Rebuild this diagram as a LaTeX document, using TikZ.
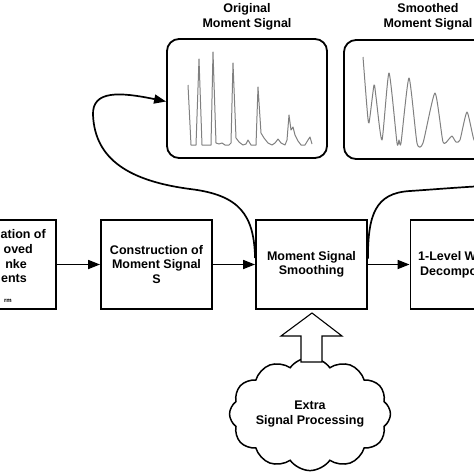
\documentclass[tikz,border=0pt]{standalone}
\usepackage{fontspec}
\setmainfont{Liberation Sans}
\usetikzlibrary{arrows.meta,shapes.symbols}
\begin{document}
\begin{tikzpicture}[x=1pt,y=-1pt,
  box/.style={draw, line width=1.8pt, minimum width=111pt, minimum height=89pt, inner sep=0pt, align=center, font=\fontsize{12.5}{14.5}\selectfont\bfseries},
  sigbox/.style={draw, line width=1.8pt, rounded corners=12pt, minimum width=160pt, minimum height=119pt, inner sep=0pt},
  lbl/.style={font=\fontsize{12.5}{15}\selectfont\bfseries, align=center, inner sep=0pt},
  conn/.style={line width=1.7pt, -{Triangle[length=12pt,width=9pt]}},
  curve/.style={line width=1.7pt},
  sig/.style={draw=black!50, line width=1pt, line join=round}
]
\useasboundingbox (0,0) rectangle (474,474);
\clip (0,0) rectangle (474,474);

% titles
\node[lbl] (t1) at (247,16.5) {Original\\Moment Signal};
\node[lbl] (t2) at (428,16.5) {Smoothed\\Moment Signal};

% signal boxes
\node[sigbox] (sig1) at (247,98.5) {};
\node[sigbox] (sig2) at (424,99.5) {};

% original signal
\draw[sig] plot coordinates {(188,85) (191,145) (196,145) (199,59) (202,145) (211,145) (213,52) (216,143) (219,144) (222,143) (225,145) (229,145) (231,143) (233,63) (236,138) (239,142) (243,145) (246,144) (248,140) (251,145) (256,145) (258,87) (261,133) (264,138) (268,143) (272,145) (275,143) (278,139) (281,143) (285,145) (287,140) (289,115) (291,130) (293,127) (295,135) (298,141) (301,145) (305,145) (308,140) (310,137) (312,144)};

% smoothed signal
\draw[sig] plot[smooth, tension=0.35] coordinates {(363,57) (367,108) (369,123) (374,85) (376,97) (382,140) (389,73) (397,143) (399,140) (401,143) (409,78) (417,143) (423,143) (435,93) (443,142) (449,139) (452,136) (456,142) (460,140) (467,112) (474,140) (480,140)};

% boxes
\node[box] (box1) at (0.5,264.5) {};
\node[box] (box2) at (156.5,264.5) {Construction of\\Moment Signal\\S};
\node[box] (box3) at (311.5,264.5) {Moment Signal\\Smoothing};
\node[box] (box4) at (466,264.5) {};

% visible text fragments of the cut boxes
\node[lbl, anchor=base east] (f1) at (46,238.5) {ation of};
\node[lbl, anchor=base east] (f2) at (33,253) {oved};
\node[lbl, anchor=base east] (f3) at (27,268) {nke};
\node[lbl, anchor=base east] (f4) at (27,282.5) {ents};
\node[font=\fontsize{6}{7}\selectfont\bfseries, anchor=base east, inner sep=0pt] (f5) at (12,302) {rm};
\node[lbl, anchor=base west] (g1) at (418,260.5) {1-Level W};
\node[lbl, anchor=base west] (g2) at (420,275.5) {Decompo};

% arrows between boxes
\draw[conn] (box1.east) -- (box2.west);
\draw[conn] (box2.east) -- (box3.west);
\draw[conn] (box3.east) -- (box4.west);

% curves
\draw[curve, -{Triangle[length=12pt,width=9pt]}] ([yshift=6.5pt]box3.west) .. controls (254,215) and (240,195) .. (190,189) .. controls (130,181) and (95,160) .. (93,115) .. controls (92,90) and (120,92) .. ([yshift=-3pt]sig1.west);
\coordinate (offR) at (520,184);
\draw[curve] ([yshift=6pt]box3.east) .. controls (368,215) and (375,193) .. (410,191) .. controls (440,189) and (460,187) .. (offR);

% cloud
\node[cloud, draw, line width=1.5pt, cloud puffs=12, cloud puff arc=110, aspect=1.6, minimum width=141pt, minimum height=90pt, lbl] (cl) at (310,414) {Extra\\Signal Processing};

% hollow arrow
\draw[line width=1.1pt, fill=white] (301,362) -- (301,336) -- (281,336) -- (312,313) -- (342,336) -- (322,336) -- (322,362) -- cycle;
\end{tikzpicture}
\end{document}
